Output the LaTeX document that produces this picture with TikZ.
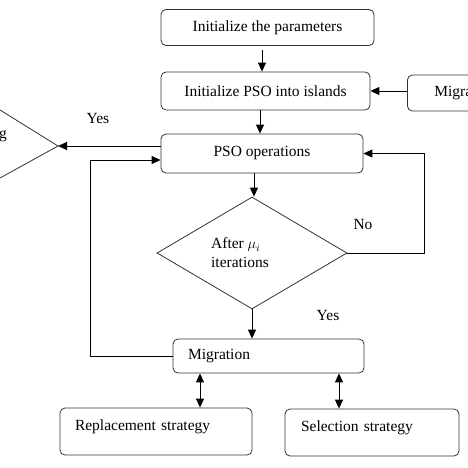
\documentclass[tikz,border=0pt]{standalone}
\usepackage{amsmath}
\usepackage{fontspec}
\setmainfont{Liberation Serif}
\usetikzlibrary{positioning,arrows.meta,shapes.geometric}

\begin{document}
\begin{tikzpicture}[
            x=1pt,y=-1pt,
            font=\fontsize{15.5}{19}\selectfont,
            box/.style={draw=black!80,line width=0.8pt,rounded corners=5pt,inner sep=0pt},
            dec/.style={draw=black!80,line width=0.8pt,diamond,inner sep=0pt,
                minimum width=190pt,minimum height=112pt},
            arr/.style={line width=0.9pt,-{Triangle[length=9pt,width=8pt]}},
            darr/.style={line width=0.9pt,{Triangle[length=9pt,width=8pt]}-{Triangle[length=9pt,width=8pt]}},
            lbl/.style={inner sep=0pt}
        ]
            \useasboundingbox (0,0) rectangle (468,468);
            \clip (0,0) rectangle (468,468);

            \node[box,minimum width=213pt,minimum height=36pt] (init)  at (267.5,27.5) {Initialize the parameters};
            \node[box,minimum width=209pt,minimum height=38pt] (isl)   at (265.5,91)   {Initialize PSO into islands};
            \node[box,anchor=west,minimum height=36pt,inner xsep=27pt] (mig2) at (407,93) {Migration};
            \node[box,minimum width=202pt,minimum height=39pt] (pso)   at (262,153.5)  {PSO operations};
            \node[dec,label={[xshift=-12pt,align=left]center:After $\mu_i$\\iterations}] (after) at (252,253) {};
            \node[box,minimum width=191pt,minimum height=34pt,text width=161pt,inner xsep=15pt,align=left] (migr) at (268.5,356) {Migration};
            \node[box,minimum width=192pt,minimum height=47pt,text width=162pt,inner xsep=15pt,align=left,text depth=12pt] (repl) at (156,431.5) {Replacement strategy};
            \node[box,minimum width=174pt,minimum height=47pt,text width=142pt,inner xsep=16pt,align=left,text depth=12pt] (sel) at (372,432.5) {Selection strategy};

            % cut-off decision at the left edge
            \coordinate (stop) at (58,146);
            \draw[black!80,line width=0.8pt] (0,110) -- (stop) -- (0,178);
            \node[lbl,anchor=east] (stoptxt) at (7,136) {g};

            \node[lbl] (yes1) at (98,119) {Yes};
            \node[lbl] (no)   at (363,224) {No};
            \node[lbl] (yes2) at (328,315) {Yes};

            \draw[arr,shorten <=4pt] ([xshift=-5.5pt]init.south) -- ([xshift=-5.5pt]init.south |- isl.north);
            \draw[arr] ([xshift=-5.5pt]isl.south) -- ([xshift=-5.5pt]isl.south |- pso.north);
            \draw[arr] (mig2.west |- isl.east) -- (isl.east);
            \draw[arr] ([yshift=7.5pt]pso.west) -- (stop);
            \draw[arr] ([xshift=-8pt]pso.south) -- ([xshift=-8pt]pso.south |- after.north);
            \draw[arr] (after.east) -- ++(77,0) |- (pso.east);
            \draw[arr] (after.south) -- (after.south |- migr.north);
            \draw[arr] (migr.west) -- ++(-82,0) |- ([yshift=-6.5pt]pso.west);
            \draw[darr] ([xshift=-68.5pt]migr.south) -- ([xshift=-68.5pt]migr.south |- repl.north);
            \draw[darr] ([xshift=70.5pt]migr.south) -- ([xshift=70.5pt]migr.south |- sel.north);
        \end{tikzpicture}
\end{document}
